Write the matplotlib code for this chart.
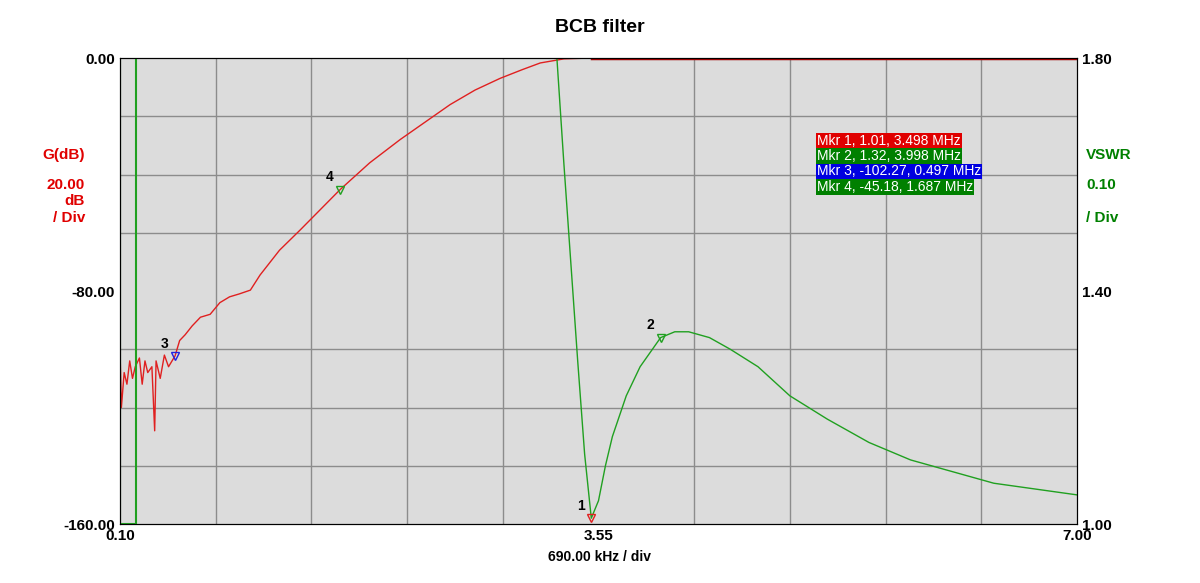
import matplotlib.pyplot as plt
import numpy as np

plt.rcParams['font.family'] = ['Liberation Sans', 'DejaVu Sans']

# Gain (dB) vs frequency (MHz)
gain_freq = [0.10, 0.11, 0.13, 0.15, 0.17, 0.19, 0.21, 0.24, 0.26, 0.28, 0.30, 0.33,
             0.35, 0.36, 0.39, 0.42, 0.45, 0.497, 0.53, 0.57, 0.62, 0.68, 0.75, 0.82,
             0.89, 0.96, 1.04, 1.11, 1.25, 1.40, 1.687, 1.90, 2.12, 2.30, 2.48, 2.66,
             2.84, 3.00, 3.13, 3.30, 3.50, 7.00]
gain_db = [-100, -120, -108, -112, -104, -110, -106, -103, -112, -104, -108, -106,
           -128, -104, -110, -102, -106, -102.27, -97, -95, -92, -89, -88, -84,
           -82, -81, -79.7, -74.5, -66, -59, -45.18, -36, -28, -22, -16, -11,
           -7, -4, -1.7, -0.3, 0, 0]

# VSWR vs frequency (MHz)
vswr_freq = [3.25, 3.30, 3.35, 3.40, 3.45, 3.498, 3.55, 3.60, 3.65, 3.75, 3.85, 3.998,
             4.10, 4.20, 4.35, 4.50, 4.70, 4.93, 5.20, 5.50, 5.80, 6.10, 6.40, 6.70, 7.00]
vswr = [1.80, 1.62, 1.45, 1.28, 1.12, 1.01, 1.04, 1.10, 1.15, 1.22, 1.27, 1.32,
        1.33, 1.33, 1.32, 1.30, 1.27, 1.22, 1.18, 1.14, 1.11, 1.09, 1.07, 1.06, 1.05]
vswr_low_freq = [0.10, 0.10, 0.215, 0.215]
vswr_low = [1.8, 1.0, 1.0, 1.8]

markers = [("1", 3.498, 1.01, 'vswr', '#e02020'),
           ("2", 3.998, 1.32, 'vswr', '#20a020'),
           ("3", 0.497, -102.27, 'gain', '#2020e0'),
           ("4", 1.687, -45.18, 'gain', '#20a020')]
mkr_text = ["Mkr 1, 1.01, 3.498 MHz", "Mkr 2, 1.32, 3.998 MHz",
            "Mkr 3, -102.27, 0.497 MHz", "Mkr 4, -45.18, 1.687 MHz"]
mkr_colors = ['#e00000', '#008000', '#0000e0', '#008000']

fig = plt.figure(figsize=(12, 5.83), dpi=100)
ax = fig.add_axes([0.1, 0.1012, 0.7975, 0.7993])
ax.set_facecolor('#dcdcdc')
ax.set_xlim(0.10, 7.00)
ax.set_ylim(-160, 0)
ax.set_xticks(np.linspace(0.10, 7.00, 11), minor=True)
ax.set_yticks(np.linspace(-160, 0, 9), minor=True)
ax.set_xticks([0.10, 3.55, 7.00])
ax.set_xticklabels(['0.10', '3.55', '7.00'])
ax.set_yticks([0, -80, -160])
ax.set_yticklabels(['0.00', '-80.00', '-160.00'])
ax.grid(True, which='minor', color='#8c8c8c', lw=1)
ax.tick_params(which='both', length=0, labelsize=11)
for lbl in ax.get_xticklabels() + ax.get_yticklabels():
    lbl.set_fontweight('bold')
for s in ax.spines.values():
    s.set_color('black')

ax.plot(gain_freq, gain_db, color='#e02020', lw=1)
ax.plot([3.5, 7.0], [0, 0], color='#a00000', lw=2.5, zorder=3)

ax2 = ax.twinx()
ax2.set_ylim(1.0, 1.8)
ax2.set_yticks([1.0, 1.4, 1.8])
ax2.set_yticklabels(['1.00', '1.40', '1.80'])
ax2.tick_params(length=0, labelsize=11)
for lbl in ax2.get_yticklabels():
    lbl.set_fontweight('bold')
ax2.plot(vswr_freq, vswr, color='#20a020', lw=1)
ax2.plot(vswr_low_freq, vswr_low, color='#20a020', lw=1.5)

for lab, fx, fy, kind, c in markers:
    a = ax2 if kind == 'vswr' else ax
    a.plot(fx, fy, marker='v', ms=6, mfc='none', mec=c, mew=1, zorder=5)
    a.annotate(lab, (fx, fy), xytext=(-10, 6), textcoords='offset points',
               fontsize=10, fontweight='bold')

for i, (t, c) in enumerate(zip(mkr_text, mkr_colors)):
    fig.text(0.681, 0.752 - i * 0.0265, t, color='white', fontsize=10,
             bbox=dict(facecolor=c, edgecolor='none', pad=0.6))

fig.text(0.5, 0.945, 'BCB filter', ha='center', fontsize=14, fontweight='bold')
fig.text(0.5, 0.037, '690.00 kHz / div', ha='center', fontsize=10, fontweight='bold')
red = '#e00000'
fig.text(0.071, 0.728, 'G(dB)', ha='right', color=red, fontsize=11, fontweight='bold')
fig.text(0.071, 0.675, '20.00', ha='right', color=red, fontsize=11, fontweight='bold')
fig.text(0.071, 0.648, 'dB', ha='right', color=red, fontsize=11, fontweight='bold')
fig.text(0.071, 0.620, '/ Div', ha='right', color=red, fontsize=11, fontweight='bold')
grn = '#008000'
fig.text(0.905, 0.728, 'VSWR', color=grn, fontsize=11, fontweight='bold')
fig.text(0.905, 0.675, '0.10', color=grn, fontsize=11, fontweight='bold')
fig.text(0.905, 0.620, '/ Div', color=grn, fontsize=11, fontweight='bold')

fig.savefig('out.png', dpi=100)
